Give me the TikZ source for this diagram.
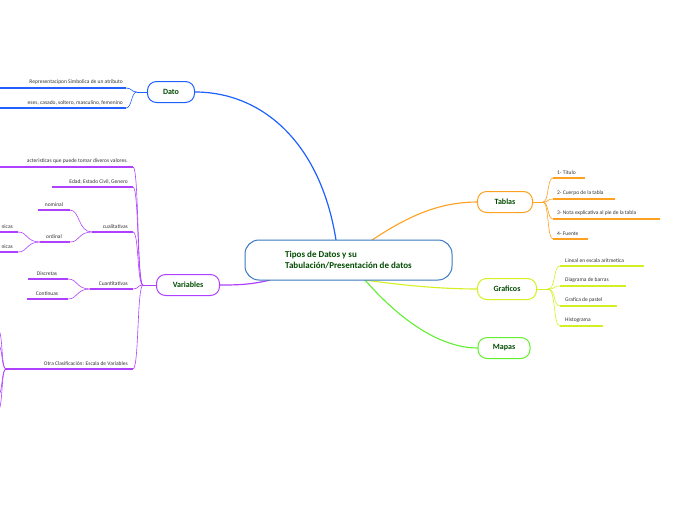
\documentclass[tikz,border=0pt]{standalone}
\usepackage{fontspec}
\setmainfont{Carlito}
\begin{document}
\begin{tikzpicture}[x=1pt,y=-1pt,
 main/.style={draw,rounded corners=9pt,line width=1pt,fill=white,text=green!30!black,font=\bfseries\fontsize{8}{9}\selectfont,minimum height=21pt,inner xsep=6pt},
 lab/.style={font=\fontsize{5.5}{6}\selectfont,text=black!80,inner sep=1pt},
 ul/.style={line width=1.4pt},
 br/.style={line width=0.6pt}]
\useasboundingbox (0,0) rectangle (696,520);
\definecolor{cb}{HTML}{2060FF}\definecolor{cp}{HTML}{B040FF}\definecolor{co}{HTML}{FFA020}
\definecolor{cl}{HTML}{D4F020}\definecolor{cg}{HTML}{60F030}\definecolor{cc}{HTML}{3A78C0}
% connectors main
\coordinate (cT) at (336,240); \coordinate (cL) at (270,280); \coordinate (cR) at (372,240); \coordinate (cB) at (365,280);
\draw[cb,line width=1.2pt] (cT) .. controls (320,140) and (260,92) .. (195,92);
\draw[cp,line width=1.2pt] (cL) .. controls (250,285) and (235,285) .. (220,285);
\draw[co,line width=1.1pt] (cR) .. controls (410,215) and (440,202) .. (478,202);
\draw[cl,line width=1.1pt] (cB) .. controls (400,285) and (440,289) .. (478,289);
\draw[cg,line width=1.1pt] (cB) .. controls (400,320) and (440,348) .. (478,348);
\node[main,draw=cc,minimum width=207pt,minimum height=40pt,rounded corners=14pt,align=left,font=\bfseries\fontsize{9}{10.5}\selectfont] (C) at (348.5,260) {Tipos de Datos y su\\Tabulación/Presentación de datos};
\node[main,draw=cb,minimum width=47pt] (D) at (171,92) {Dato};
\node[main,draw=cp,minimum width=63pt] (V) at (188,285) {Variables};
\node[main,draw=co,minimum width=55pt] (T) at (505,202) {Tablas};
\node[main,draw=cl,minimum width=59pt] (G) at (507,289) {Graficos};
\node[main,draw=cg,minimum width=52pt] (M) at (504,348) {Mapas};
% Dato children
\coordinate (dj) at (137,92);
\draw[cb,br] (D.west) -- (dj);
\foreach \y/\t in {88/Representacipon Simbolica de un atributo,108/{eses, casado, soltero, masculino, femenino}}{
 \draw[cb,br] (dj) .. controls (131,92) and (132,\y) .. (126,\y);
 \draw[cb,ul] (126,\y) -- (-2,\y);
 \node[lab,anchor=south east] at (124,\y-2) {\t};}
% Variables children
\coordinate (vj) at (143,285);
\draw[cp,br] (V.west) -- (vj);
\foreach \y/\x/\t in {167/-2/{acteristicas que puede tomar diveros valores.},187/52/{Edad; Estado Civil, Genero},232/92/cualitativas,289/90/Cuantitativas,369/6/{Otra Clasificación: Escala de Variables}}{
 \draw[cp,br] (vj) .. controls (137,285) and (139,\y) .. (133,\y);
 \draw[cp,ul] (133,\y) -- (\x,\y);
 \node[lab,anchor=south east] at (129,\y-2) {\t};}
% cualitativas
\foreach \y/\x/\t in {210/38/nominal,242/40/ordinal}{
 \draw[cp,br] (92,232) .. controls (78,232) and (80,\y) .. (70,\y);
 \draw[cp,ul] (70,\y) -- (\x,\y);
 \node[lab,anchor=south] at (54,\y-2) {\t};}
\foreach \y in {232,252}{
 \draw[cp,br] (40,242) .. controls (26,242) and (28,\y) .. (18,\y);
 \draw[cp,ul] (18,\y) -- (-2,\y);
 \node[lab,anchor=south east] at (14,\y-2) {nicas};}
% Cuantitativas
\foreach \y/\x/\t in {279/28/Discretas,299/27/Continuas}{
 \draw[cp,br] (90,289) .. controls (76,289) and (78,\y) .. (68,\y);
 \draw[cp,ul] (68,\y) -- (\x,\y);
 \node[lab,anchor=south] at (47,\y-2) {\t};}
% Otra clasificacion branches off-canvas
\foreach \y in {330,345,395,410}{
 \draw[cp,br] (6,369) .. controls (1,369) and (3,\y) .. (-2,\y);}
% Tablas children
\coordinate (tj) at (543,202);
\draw[co,br] (T.east) -- (tj);
\foreach \y/\x/\t in {178/585/1- Titulo,199/615/2- Cuerpo de la tabla,219/660/3- Nota explicativa al pie de la tabla,239/588/4- Fuente}{
 \draw[co,br] (tj) .. controls (549,202) and (547,\y) .. (553,\y);
 \draw[co,ul] (553,\y) -- (\x,\y);
 \node[lab,anchor=south west] at (556,\y-2) {\t};}
% Graficos children
\coordinate (gj) at (548,289);
\draw[cl,br] (G.east) -- (gj);
\foreach \y/\x/\t in {266/644/Lineal en escala aritmetica,286/626/Diagrama de barras,306/617/Grafica de pastel,326/603/Histograma}{
 \draw[cl,br] (gj) .. controls (556,289) and (553,\y) .. (560,\y);
 \draw[cl,ul] (560,\y) -- (\x,\y);
 \node[lab,anchor=south west] at (564,\y-2) {\t};}
\end{tikzpicture}
\end{document}
